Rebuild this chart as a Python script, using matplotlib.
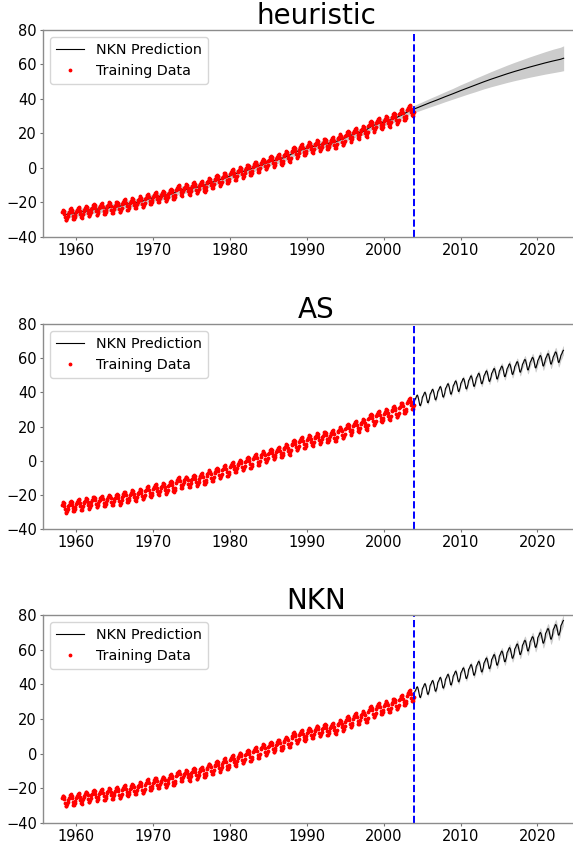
import matplotlib
matplotlib.use("Agg")
import matplotlib.pyplot as plt
import numpy as np

# ---------------- data ----------------
train_years = list(range(1958, 2004))
train_annual = [-27.2, -26.5, -25.6, -24.9, -24.0, -23.5, -22.9, -22.5, -21.1, -20.3,
                -19.5, -17.9, -16.8, -16.2, -15.0, -12.8, -12.3, -11.4, -10.5, -8.7,
                -7.1, -5.7, -3.7, -2.4, -1.0, 0.7, 2.4, 3.9, 5.1, 6.8,
                9.2, 10.7, 12.0, 13.2, 14.0, 14.7, 16.5, 18.5, 20.2, 21.4,
                24.3, 26.0, 27.2, 28.8, 31.0, 33.5]
seasonal = [0.0, 0.7, 1.4, 2.5, 3.0, 2.3, 0.8, -1.2, -3.0, -3.2, -2.0, -0.8]
train_first_month = 3   # March 1958
train_end = 2004.0

fc_years = list(range(2004, 2024))
fc_last_month = 5       # May 2023
as_annual = [35.4, 37.1, 38.8, 40.4, 42.1, 43.7, 45.2, 46.7, 48.2, 49.6,
             51.0, 52.4, 53.7, 55.0, 56.3, 57.5, 58.6, 59.7, 60.7, 61.6]
as_band = [0.9, 1.0, 1.1, 1.2, 1.3, 1.4, 1.5, 1.6, 1.7, 1.8,
           1.9, 2.0, 2.1, 2.2, 2.3, 2.4, 2.5, 2.6, 2.7, 2.8]
nkn_annual = [35.6, 37.4, 39.2, 41.0, 42.8, 44.6, 46.5, 48.4, 50.3, 52.2,
              54.2, 56.2, 58.2, 60.3, 62.4, 64.5, 66.9, 69.2, 71.5, 73.8]
nkn_band = [0.9, 1.0, 1.1, 1.2, 1.3, 1.4, 1.5, 1.6, 1.7, 1.9,
            2.0, 2.1, 2.2, 2.4, 2.5, 2.6, 2.8, 2.9, 3.0, 3.2]

heur_train_band = 2.2
heur_fc_x = [2004, 2005, 2006, 2007, 2008, 2009, 2010, 2011, 2012, 2013,
             2014, 2015, 2016, 2017, 2018, 2019, 2020, 2021, 2022, 2023, 2023.4]
heur_fc_mean = [34.2, 36.0, 37.8, 39.5, 41.3, 43.0, 44.8, 46.5, 48.2, 49.9,
                51.5, 53.0, 54.5, 55.9, 57.2, 58.5, 59.7, 60.9, 62.0, 63.0, 63.6]
heur_fc_band = [2.1, 2.3, 2.5, 2.7, 2.9, 3.1, 3.4, 3.6, 3.9, 4.1,
                4.4, 4.7, 5.0, 5.3, 5.6, 5.9, 6.2, 6.5, 6.8, 7.0, 7.2]

titles = ["heuristic", "AS", "NKN"]

# ---------------- build monthly series ----------------
tx, ty = [], []
for yi, yr in enumerate(train_years):
    for m in range(12):
        if yr == train_years[0] and m < train_first_month - 1:
            continue
        tx.append(yr + (m + 0.5) / 12)
        ty.append(train_annual[yi] + seasonal[m])
tx, ty = np.array(tx), np.array(ty)


def monthly(annual, band):
    xs, ys, bs = [], [], []
    for yi, yr in enumerate(fc_years):
        for m in range(12):
            if yr == fc_years[-1] and m >= fc_last_month:
                break
            xs.append(yr + (m + 0.5) / 12)
            ys.append(annual[yi] + seasonal[m])
            bs.append(band[yi])
    return np.array(xs), np.array(ys), np.array(bs)


# ---------------- figure ----------------
fig = plt.figure(figsize=(5.73, 8.46), dpi=100)
positions = [[0.075, 0.7199, 0.953, 0.2447],
             [0.075, 0.3747, 0.953, 0.2423],
             [0.075, 0.0272, 0.953, 0.2459]]

for k, title in enumerate(titles):
    ax = fig.add_axes(positions[k])
    if k == 0:
        hx = np.concatenate([np.array(train_years) + 0.5, heur_fc_x])
        hy = np.concatenate([train_annual, heur_fc_mean])
        hb = np.concatenate([np.full(len(train_years), heur_train_band), heur_fc_band])
        ax.fill_between(hx, hy - hb, hy + hb, color="0.8", lw=0)
        ax.plot(hx, hy, color="k", lw=0.8, label="NKN Prediction")
    else:
        ann = as_annual if k == 1 else nkn_annual
        bnd = as_band if k == 1 else nkn_band
        fx, fy, fb = monthly(ann, bnd)
        ax.fill_between(fx, fy - fb, fy + fb, color="0.8", lw=0)
        ax.plot(fx, fy, color="k", lw=0.8, label="NKN Prediction")
    ax.plot(tx, ty, "r.", ms=3.5, label="Training Data")
    ax.axvline(train_end, color="blue", ls="--", lw=1.4)
    ax.set_xlim(1955.75, 2026.7)
    ax.set_ylim(-40, 80)
    ax.set_yticks([-40, -20, 0, 20, 40, 60, 80])
    ax.set_xticks([1960, 1970, 1980, 1990, 2000, 2010, 2020])
    ax.tick_params(labelsize=10.5, color="0.45", length=2.5, pad=1.8)
    for s in ax.spines.values():
        s.set_color("0.55")
        s.set_linewidth(1.0)
    ax.set_title(title, fontsize=20, pad=2)
    ax.legend(loc="upper left", fontsize=10.3)

fig.savefig("out.png", dpi=100)
